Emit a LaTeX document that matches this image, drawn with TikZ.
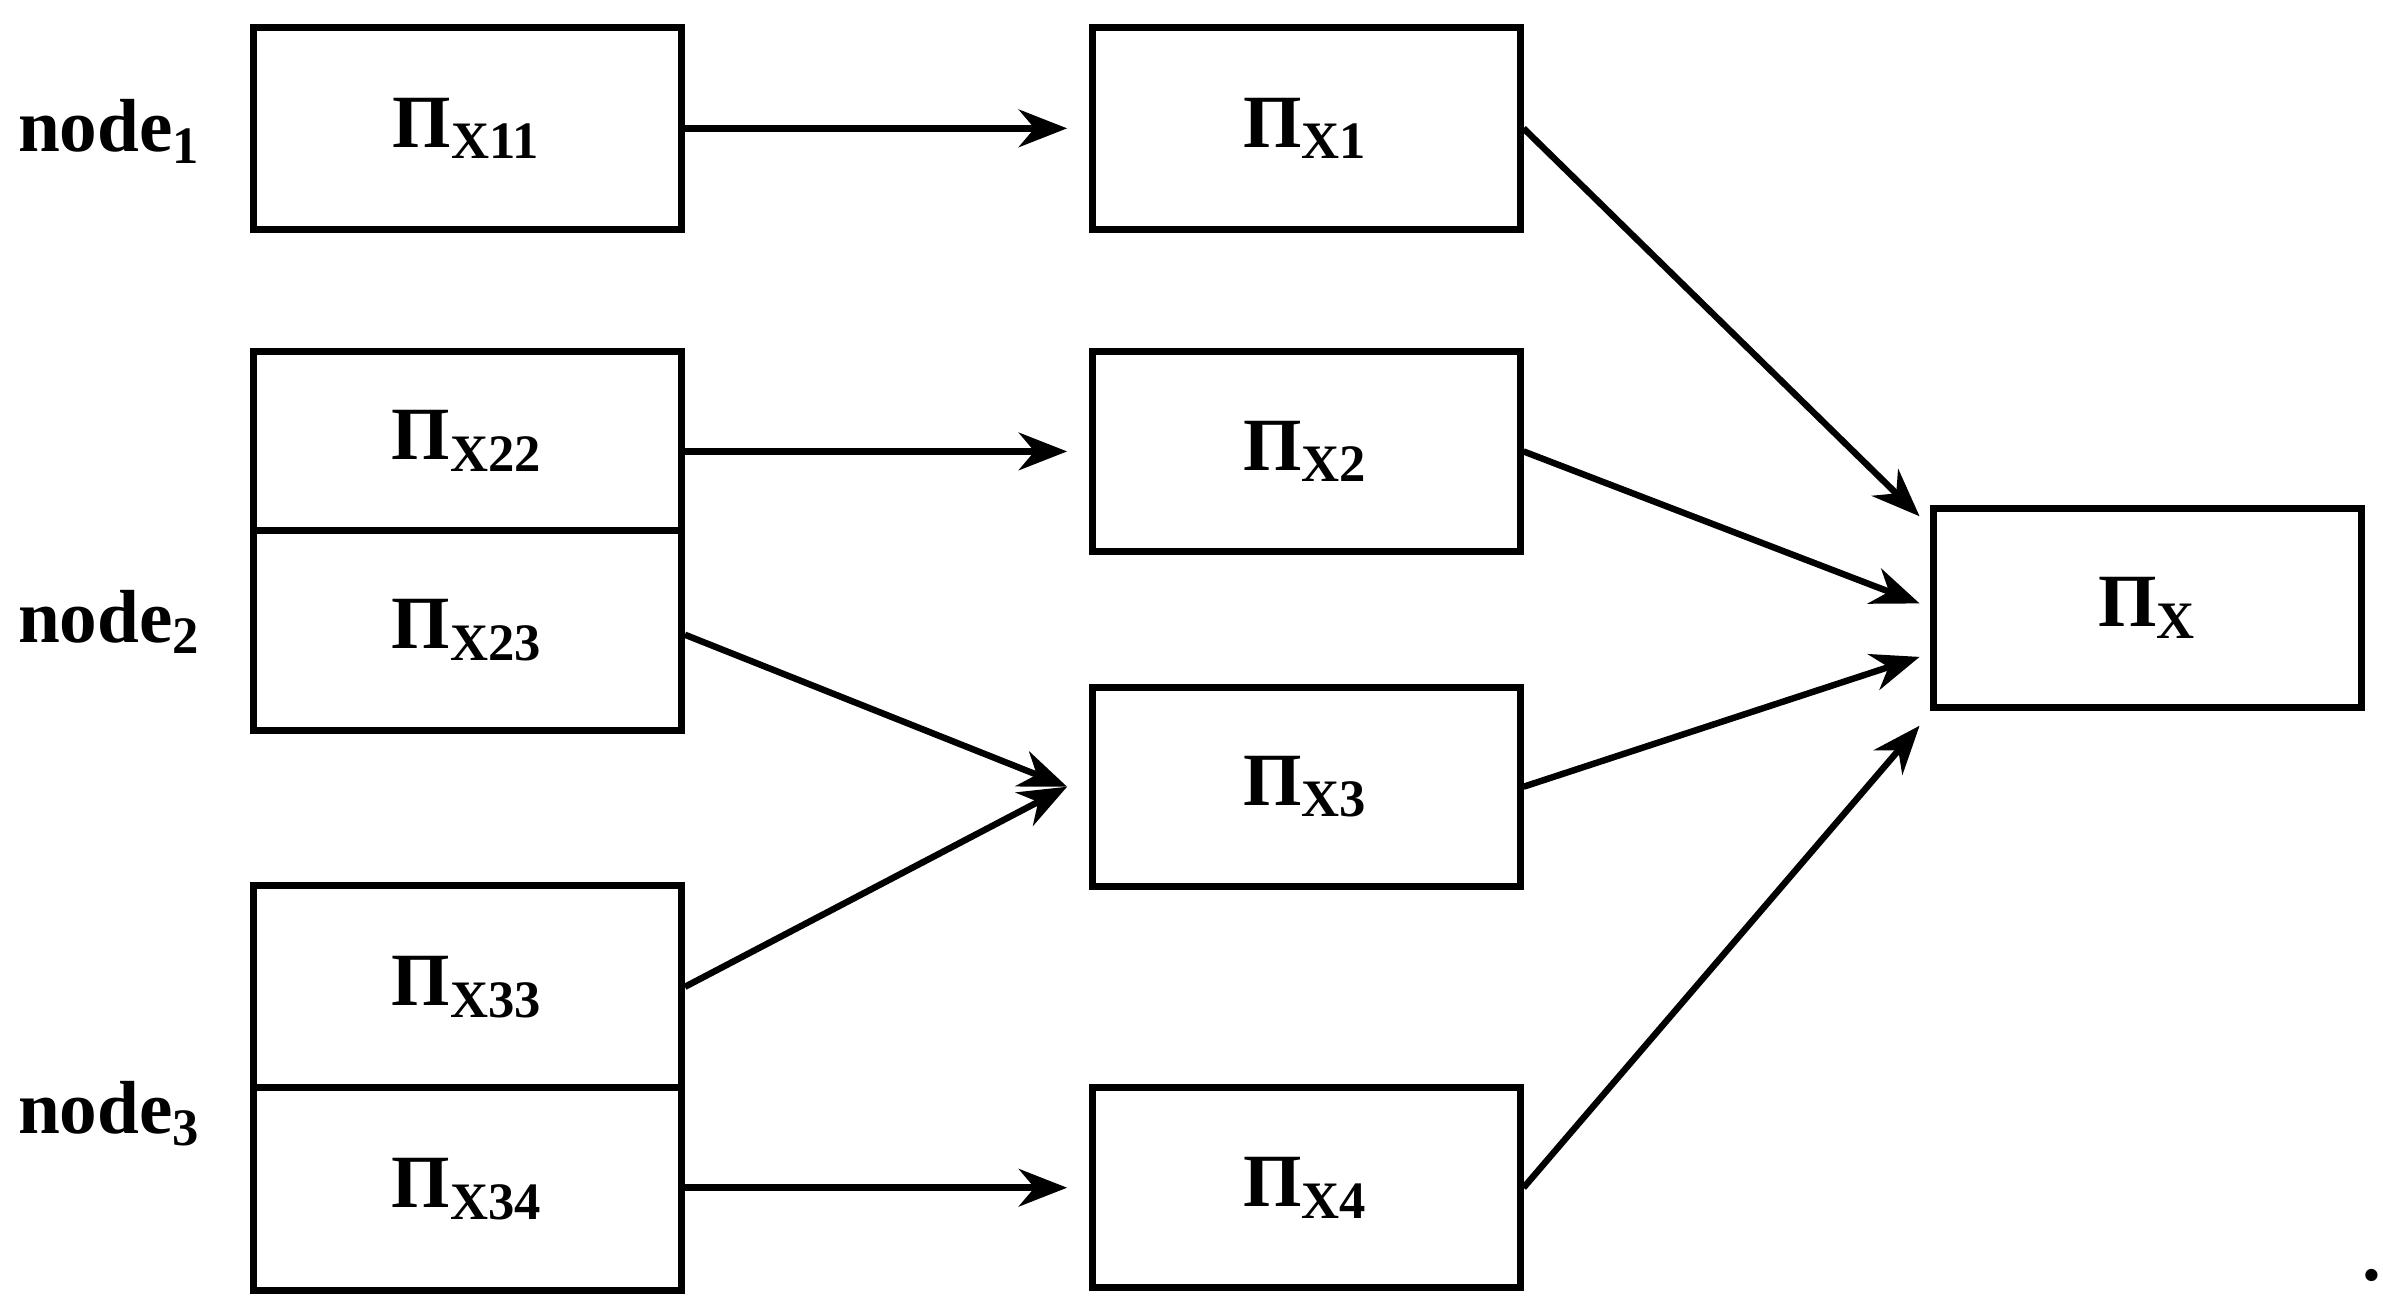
\documentclass[tikz,border=0pt]{standalone}
\usepackage{fontspec}
\setmainfont{Liberation Serif}
\usetikzlibrary{arrows.meta}
\begin{document}
\begin{tikzpicture}[x=0.01cm,y=-0.01cm]
        % Common styles
        \tikzset{box/.style={draw, line width=1.3pt, minimum width=2.8cm, minimum height=1.32cm, inner sep=0pt, font=\fontsize{14}{17}\selectfont\bfseries},
                 link/.style={-{Stealth[length=9pt,width=7pt]}, line width=1.2pt},
                 lbl/.style={font=\fontsize{14}{17}\selectfont\bfseries}}
        \useasboundingbox (0,0) rectangle (1560,856);

        % --- Left column ---
        \node[box] (x11) at (306,84) {Π\textsubscript{X11}};
        \node[box, minimum height=1.17cm] (x22) at (306,288.5) {Π\textsubscript{X22}};
        \node[box, minimum height=1.31cm] (x23) at (306,412.5) {Π\textsubscript{X23}};
        \node[box] (x33) at (306,646) {Π\textsubscript{X33}};
        \node[box, minimum height=1.33cm] (x34) at (306,778.5) {Π\textsubscript{X34}};

        \node[lbl] (n1) at (72,86) {node\textsubscript{1}};
        \node[lbl] (n2) at (72,407) {node\textsubscript{2}};
        \node[lbl] (n3) at (72,729) {node\textsubscript{3}};

        % --- Middle column ---
        \node[box] (x1) at (855,84) {Π\textsubscript{X1}};
        \node[box, minimum height=1.31cm] (x2) at (855,295.5) {Π\textsubscript{X2}};
        \node[box, minimum height=1.30cm] (x3) at (855,515) {Π\textsubscript{X3}};
        \node[box, minimum height=1.31cm] (x4) at (855,777.5) {Π\textsubscript{X4}};

        % --- Result ---
        \node[box, minimum height=1.30cm] (x) at (1406,398) {Π\textsubscript{X}};
        \node[lbl] (dot) at (1553,835) {.};

        % Links
        \draw[link] (x11.east) -- ([xshift=-4pt]x1.west);
        \draw[link] (x22.east |- x2.west) -- ([xshift=-4pt]x2.west);
        \draw[link] ([yshift=-0.03cm]x23.east) -- ([xshift=-4pt]x3.west);
        \draw[link] (x33.east) -- ([xshift=-4pt]x3.west);
        \draw[link] (x34.east |- x4.west) -- ([xshift=-4pt]x4.west);
        \draw[link] (x1.east) -- ([xshift=-0.07cm,yshift=0.6cm]x.west);
        \draw[link] (x2.east) -- ([xshift=-0.07cm,yshift=0.03cm]x.west);
        \draw[link] (x3.east) -- ([xshift=-0.07cm,yshift=-0.32cm]x.west);
        \draw[link] (x4.east) -- ([xshift=-0.07cm,yshift=-0.77cm]x.west);
\end{tikzpicture}
\end{document}
